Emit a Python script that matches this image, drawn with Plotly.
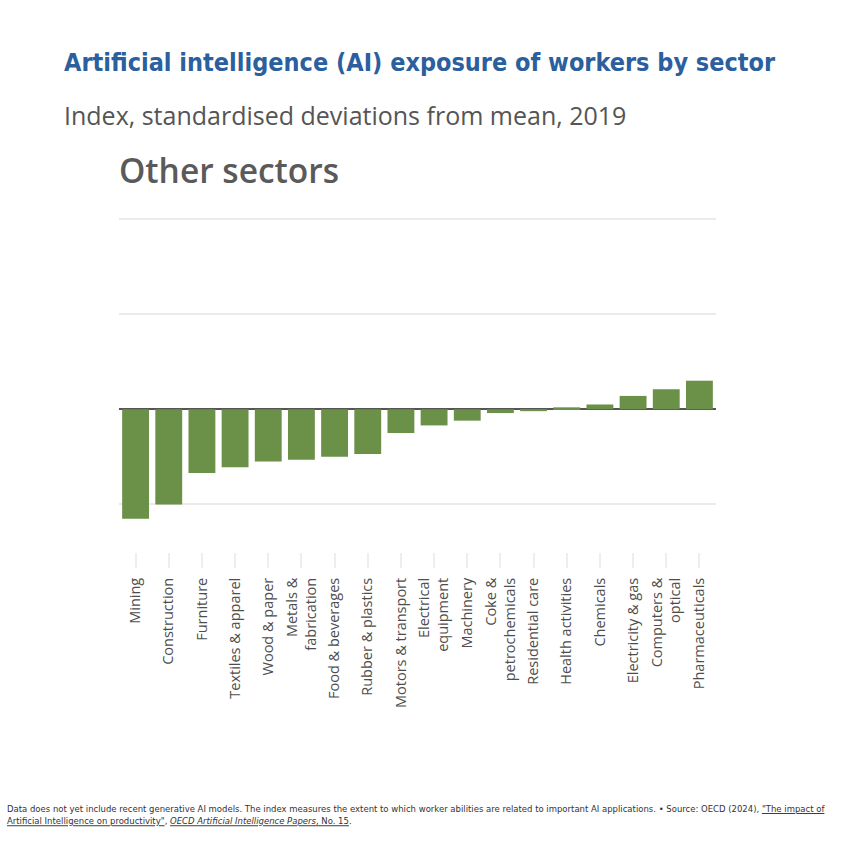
import plotly.graph_objects as go

# Sectors, sorted by AI exposure index (standardised deviations from mean, 2019)
sectors = [
    "Mining", "Construction", "Furniture", "Textiles & apparel", "Wood & paper",
    "Metals &<br>fabrication", "Food & beverages", "Rubber & plastics",
    "Motors & transport", "Electrical<br>equipment", "Machinery",
    "Coke &<br>petrochemicals", "Residential care", "Health activities",
    "Chemicals", "Electricity & gas", "Computers &<br>optical", "Pharmaceuticals",
]
exposure = [
    -1.15, -1.00, -0.67, -0.61, -0.55, -0.53, -0.50, -0.47, -0.25, -0.17,
    -0.12, -0.04, -0.02, 0.02, 0.05, 0.14, 0.21, 0.30,
]

W, H = 842, 842
L, R, T, B = 119, 126, 217, 290
pw, ph = W - L - R, H - T - B


def px(x):
    return (x - L) / pw


def py(y):
    return (H - B - y) / ph


fig = go.Figure(go.Bar(
    x=sectors, y=exposure,
    marker=dict(color="#6b9048", line=dict(width=0)),
    hovertemplate="%{x}: %{y:.2f}<extra></extra>",
))

fig.update_layout(
    width=W, height=H,
    margin=dict(l=L, r=R, t=T, b=B),
    paper_bgcolor="white", plot_bgcolor="white",
    showlegend=False,
    bargap=0.19,
    font=dict(family="Open Sans", color="#555555"),
    xaxis=dict(
        showgrid=False, showline=False, zeroline=False,
        ticks="outside", ticklen=15, tickwidth=2, tickcolor="#eeeeee",
        ticklabelstandoff=4,
        tickangle=-90, tickfont=dict(family="Open Sans", size=14.5, color="#4d4d4d"),
    ),
    yaxis=dict(
        range=[-1.5, 2.02], dtick=1, showticklabels=False,
        showgrid=True, gridcolor="#ebebeb", gridwidth=2,
        zeroline=True, zerolinecolor="#555555", zerolinewidth=1.5,
    ),
)

annotations = [
    dict(text="<b>Artificial intelligence (AI) exposure of workers by sector</b>",
         x=px(62), y=py(63), xanchor="left", yanchor="middle",
         font=dict(family="DejaVu Sans Condensed", size=25, color="#2b5f9e")),
    dict(text="Index, standardised deviations from mean, 2019",
         x=px(62), y=py(115), xanchor="left", yanchor="middle",
         font=dict(family="Open Sans", size=25, color="#555555")),
    dict(text="Other sectors",
         x=px(117), y=py(170), xanchor="left", yanchor="middle",
         font=dict(family="Open Sans", size=33.5, color="#5a5a5a", weight=600)),
    dict(text=("Data does not yet include recent generative AI models. The index measures the extent to which "
               "worker abilities are related to important AI applications. • Source: OECD (2024), "
               "<span style='text-decoration:underline'>\"The impact of</span><br>"
               "<span style='text-decoration:underline'>Artificial Intelligence on productivity\"</span>, "
               "<span style='text-decoration:underline'><i>OECD Artificial Intelligence Papers</i>, No. 15</span>."),
         x=px(5), y=py(814), xanchor="left", yanchor="middle", align="left",
         font=dict(family="DejaVu Sans Condensed", size=9.45, color="#333333")),
]
for a in annotations:
    a.update(xref="paper", yref="paper", showarrow=False)
fig.update_layout(annotations=annotations)

fig.write_html("out.html", config={"displayModeBar": False},
               post_script="document.body.style.margin = '0';")
